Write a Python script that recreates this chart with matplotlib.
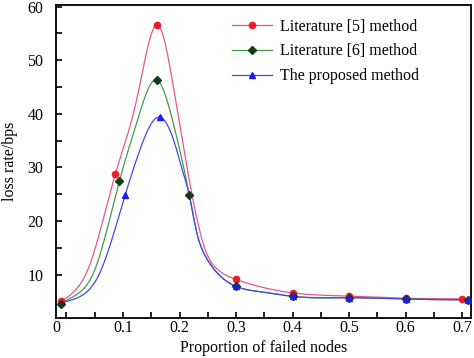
"""
Loss rate vs. proportion of failed nodes for three methods.
"""

import matplotlib

matplotlib.use("Agg")

import matplotlib.pyplot as plt
import numpy as np

# ============================================================
# Data
# ============================================================

labels = [
    "Literature [5] method",
    "Literature [6] method",
    "The proposed method",
]

# marker points
x_lit5 = [-0.01, 0.0864, 0.161, 0.30, 0.40, 0.50, 0.60, 0.70]
y_lit5 = [5.0, 28.75, 56.6, 9.1, 6.6, 6.0, 5.6, 5.5]

x_lit6 = [-0.01, 0.0935, 0.160, 0.2174, 0.30, 0.40, 0.50, 0.60, 0.711]
y_lit6 = [4.6, 27.4, 46.3, 24.8, 7.8, 5.95, 5.7, 5.45, 5.3]

x_prop = [0.104, 0.165, 0.30, 0.40, 0.50, 0.60, 0.711]
y_prop = [24.9, 39.4, 7.8, 5.95, 5.7, 5.45, 5.3]

# extra points traced along each curve between the markers
tx_lit5 = [0.015, 0.040, 0.125, 0.190, 0.2174, 0.245, 0.266, 0.348]
ty_lit5 = [7.0, 11.5, 43.0, 44.5, 27.6, 14.8, 11.1, 7.6]

tx_lit6 = [0.015, 0.049, 0.125, 0.190, 0.2304, 0.245, 0.266, 0.345]
ty_lit6 = [6.1, 10.6, 38.6, 37.8, 17.9, 13.6, 10.4, 6.8]

tx_prop = [-0.01, 0.015, 0.058, 0.125, 0.145, 0.192, 0.207, 0.2174, 0.2304, 0.245, 0.266, 0.345]
ty_prop = [4.7, 5.5, 10.1, 31.8, 37.2, 34.3, 28.8, 24.8, 17.9, 13.6, 10.4, 6.8]

x_ticks = [0.1, 0.2, 0.3, 0.4, 0.5, 0.6, 0.7]
y_ticks = [10, 20, 30, 40, 50, 60]


def cubic_spline(x, y, xs):
    """
    Natural cubic spline through the points (like Origin's spline line).
    """

    x = np.asarray(x, float)
    y = np.asarray(y, float)
    n = len(x)
    h = np.diff(x)

    A = np.zeros((n, n))
    r = np.zeros(n)
    A[0, 0] = 1.0
    A[-1, -1] = 1.0
    for i in range(1, n - 1):
        A[i, i - 1] = h[i - 1]
        A[i, i] = 2 * (h[i - 1] + h[i])
        A[i, i + 1] = h[i]
        r[i] = 6 * ((y[i + 1] - y[i]) / h[i] - (y[i] - y[i - 1]) / h[i - 1])
    M = np.linalg.solve(A, r)

    i = np.clip(np.searchsorted(x, xs) - 1, 0, n - 2)
    a = x[i + 1] - xs
    b = xs - x[i]
    hi = h[i]

    return (
        M[i] * a**3 / (6 * hi)
        + M[i + 1] * b**3 / (6 * hi)
        + (y[i] - M[i] * hi**2 / 6) * a / hi
        + (y[i + 1] - M[i + 1] * hi**2 / 6) * b / hi
    )


def merge(xm, ym, xt, yt):
    pts = sorted(set(zip(list(xm) + list(xt), list(ym) + list(yt))))
    return [q[0] for q in pts], [q[1] for q in pts]


plt.rcParams["font.family"] = ["Liberation Serif", "DejaVu Serif"]
plt.rcParams["font.size"] = 11.5

fig = plt.figure(figsize=(4.74, 3.58), dpi=100)
ax = fig.add_axes([0.118, 0.113, 0.875, 0.873])

series = [
    (x_lit5, y_lit5, tx_lit5, ty_lit5, "#e8558c", "#ee1c25", "o", 4.5),
    (x_lit6, y_lit6, tx_lit6, ty_lit6, "#3fa040", "#173a17", "D", 3.6),
    (x_prop, y_prop, tx_prop, ty_prop, "#4646ee", "#1a1aff", "^", 4.8),
]

handles = []
for (xm, ym, xt, yt, lc, mc, mk, ms), lab in zip(series, labels):
    cx, cy = merge(xm, ym, xt, yt)
    lx = np.linspace(cx[0], cx[-1], 800)
    ax.plot(lx, cubic_spline(cx, cy, lx), color=lc, lw=0.9, zorder=2)
    ax.plot(xm, ym, ls="none", marker=mk, ms=ms, color=mc, zorder=3)
    (h,) = ax.plot(
        [], [], color=lc, lw=0.9, marker=mk, ms=ms,
        markerfacecolor=mc, markeredgecolor=mc,
    )
    handles.append(h)

# ============================================================
# Axes
# ============================================================

x_left = -0.0186
ax.set_xlim(x_left, 0.715)
ax.set_ylim(2, 60.3)

ax.set_xticks([x_left] + x_ticks)
ax.set_xticklabels(["0"] + [f"{v:g}" for v in x_ticks])
ax.set_xticks([0.0, 0.05, 0.15, 0.25, 0.35, 0.45, 0.55, 0.65], minor=True)

ax.set_yticks(y_ticks)
ax.set_yticks([15, 25, 35, 45, 55], minor=True)

ax.tick_params(axis="both", which="both", direction="in", length=4.5, width=1.2)
ax.tick_params(axis="x", pad=2)
ax.tick_params(axis="y", pad=9)
ax.xaxis.get_major_ticks()[0].tick1line.set_visible(False)

for s in ax.spines.values():
    s.set_linewidth(1.3)

ax.set_xlabel("Proportion of failed nodes", labelpad=3)
ax.set_ylabel("loss rate/bps", labelpad=7)

fig.legend(
    handles=handles,
    labels=labels,
    loc="upper left",
    bbox_to_anchor=(0.489, 0.948),
    frameon=False,
    borderpad=0,
    borderaxespad=0,
    handlelength=2.5,
    handletextpad=0.5,
    labelspacing=0.55,
    fontsize=11.5,
)

fig.savefig("out.png", dpi=100)
